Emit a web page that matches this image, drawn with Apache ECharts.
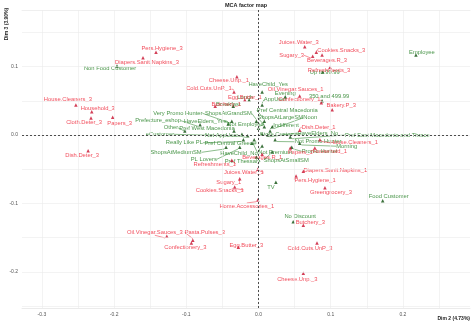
<!DOCTYPE html>
<html>
<head>
<meta charset="utf-8">
<script src="https://cdn.jsdelivr.net/npm/echarts@6/dist/echarts.min.js"></script>
<style>
html,body{margin:0;padding:0;background:#fff;}
#chart{width:474px;height:325px;}
</style>
</head>
<body>
<div id="chart"></div>
<script>
// Active categories (red): coordinates on Dim 2 / Dim 3
const activeNames = [
  'Pers.Hygiene_3','Diapers.Sanit.Napkins_3','House.Cleaners_3','Household_3','Cloth.Deter_3',
  'Papers_3','Dish.Deter_3','Cheese.Unp._1','Cold.Cuts.UnP._1','Juices.Water_3',
  'Sugary_3','Cookies.Snacks_3','Beverages.R_3','Refreshments_3','Oil.Vinegar.Sauces_1',
  'Confectionery_1','Bakery.P_3','Egg.Butter_1','Butchery_1','Dish.Deter_1',
  'House.Cleaners_1','Household_1','Papers_1','Beverages.R_1','Refreshments_1',
  'Juices.Water_1','Sugary_1','Cookies.Snacks_1','Home.Accessories_1','Diapers.Sanit.Napkins_1',
  'Pers.Hygiene_1','Greengrocery_3','Butchery_3','Cold.Cuts.UnP_3','Cheese.Unp._3',
  'Egg.Butter_3','Pasta.Pulses_3','Confectionery_3','Oil.Vinegar.Sauces_3'
];
const activeDim2 = [
  -0.142,-0.160,-0.253,-0.231,-0.232,
  -0.202,-0.236,-0.030,-0.034,0.064,
  0.075,0.080,0.088,0.099,0.057,
  0.087,0.102,-0.019,-0.060,0.057,
  0.085,0.078,0.044,0.005,-0.037,
  -0.001,-0.026,-0.033,-0.001,0.062,
  0.052,0.092,0.062,0.081,0.062,
  -0.028,-0.091,-0.093,-0.127
];
const activeDim3 = [
  0.121,0.113,0.044,0.034,0.025,
  0.026,-0.023,0.085,0.063,0.129,
  0.115,0.121,0.117,0.099,0.057,
  0.047,0.037,0.051,0.042,0.007,
  -0.007,-0.019,-0.019,-0.028,-0.037,
  -0.050,-0.064,-0.076,-0.095,-0.053,
  -0.060,-0.077,-0.132,-0.158,-0.202,
  -0.164,-0.154,-0.158,-0.148
];

// Supplementary categories (green)
const suppNames = [
  'Non Food Customer','Employee','Food Customer','No Discount','TV',
  'HaveChild_Yes','Up to 99.99','350 and 499.99','AppUser','Evening',
  'Lunch','Breakfast','Very Promo Hunter','ShopsAtGrandSM','Prefecture_eshop',
  'HaveElders_Yes','Other','Pref West Macedonia','eCustomer','Not AppUser',
  'Really Like PL','Pref Central Greece','ShopsAtMediumSM','PL Lovers','HaveChild_No',
  'Not Employed','Pref Central Macedonia','ShopsAtLargeSM','Noon','Indifferent',
  'Store Customer','HaveElders_No','Pref East Macedonia and Thrace','Not Promo Hunter','Morning',
  'Promo Hunter','Not Premium','ShopsAtSmallSM','Pref Thessaly'
];
const suppDim2 = [
  -0.196,0.218,0.172,0.048,0.024,
  0.005,0.089,0.088,0.005,0.037,
  -0.013,-0.035,-0.037,-0.003,-0.081,
  -0.042,-0.102,-0.034,-0.023,-0.015,
  -0.021,-0.006,-0.045,-0.026,-0.009,
  0.000,0.008,0.008,0.019,0.016,
  0.005,0.013,0.044,0.023,0.057,
  0.046,0.005,0.019,-0.003
];
const suppDim3 = [
  0.101,0.117,-0.096,-0.127,-0.069,
  0.063,0.092,0.050,0.044,0.056,
  0.051,0.042,0.020,0.020,0.015,
  0.016,0.006,0.006,0.001,-0.001,
  -0.007,-0.007,-0.018,-0.018,-0.012,
  0.010,0.020,0.012,0.012,0.006,
  0.001,0.000,-0.003,-0.007,-0.012,
  -0.018,-0.016,-0.025,-0.032
];

const xTicks = [-0.3, -0.2, -0.1, 0, 0.1, 0.2];
const yTicks = [-0.2, -0.1, 0, 0.1];

// Repelled label placement, in pixels from each point
const activeNudge = [
  [6,-4],[4,5],[-8,-5],[6,-3],[-7,5],
  [7,6],[-6,5],[-8,4],[-25,-3],[-6,-4],
  [-21,-1],[25,-2],[5,5],[-1,3],[-4,-7],
  [-22,-3],[9,-4],[0,-3],[11,-2],[19,-3],
  [34,3],[15,3],[10,4],[0,3],[-17,4],
  [-14,3],[-11,4],[-15,3],[-11,6],[32,-1],
  [19,4],[6,5],[7,-3],[-7,5],[-6,6],
  [8,-2],[12,-8],[-6,4],[-12,-4]
];
const suppNudge = [
  [-7,3],[6,-3],[6,-4],[7,-5],[-5,5],
  [6,-7],[2,0],[7,-4],[13,-5],[0,-3],
  [-4,-3],[-5,-2],[-54,-8],[-28,-8],[-42,-4],
  [-23,-3],[-14,-3],[-27,-2],[-82,0],[-26,0],
  [-59,3],[-24,4],[-50,5],[-36,12],[-13,10],
  [-13,-4],[23,-11],[16,-9],[38,-9],[16,-5],
  [18,0],[50,-2],[97,-2],[43,2],[47,3],
  [28,4],[13,6],[14,8],[-14,5]
];

const RED = '#ee1c2e';
const GREEN = '#1b7a1b';
const FONT = '"Liberation Sans", Arial, sans-serif';

const X_MIN = -0.3276, X_MAX = 0.2929;
const Y_MIN = -0.2529, Y_MAX = 0.1827;

const gridX = [];
for (let v = -0.30; v <= 0.2501; v += 0.05) gridX.push(+v.toFixed(2));
const gridY = [];
for (let v = -0.25; v <= 0.1501; v += 0.05) gridY.push(+v.toFixed(2));

function buildPoints(names, xs, ys, nudge) {
  return names.map((n, i) => ({
    name: n,
    value: [xs[i], ys[i]],
    labelLine: { show: Math.hypot(nudge[i][0], nudge[i][1]) > 12 }
  }));
}

const chart = echarts.init(document.getElementById('chart'), null, { renderer: 'canvas' });

chart.setOption({
  animation: false,
  backgroundColor: '#ffffff',
  grid: { left: 22, right: 4, top: 10, bottom: 17 },
  xAxis: [
    {
      type: 'value', min: X_MIN, max: X_MAX,
      splitLine: { show: false },
      axisLine: { show: true, onZero: false, lineStyle: { color: '#dddddd', width: 0.6 } },
      axisTick: { show: false },
      axisLabel: {
        customValues: xTicks,
        formatter: v => v.toFixed(1),
        fontSize: 5, color: '#555', margin: 4, fontFamily: FONT
      }
    },
    {
      type: 'value', position: 'top', min: X_MIN, max: X_MAX,
      splitLine: { show: false },
      axisLine: { show: true, onZero: false, lineStyle: { color: '#e4e4e4', width: 0.6 } },
      axisTick: { show: false },
      axisLabel: { show: false }
    }
  ],
  yAxis: {
    type: 'value', min: Y_MIN, max: Y_MAX,
    splitLine: { show: false },
    axisLine: { show: false },
    axisTick: { show: false },
    axisLabel: {
      customValues: yTicks,
      formatter: v => v.toFixed(1),
      fontSize: 5, color: '#555', margin: 4, fontFamily: FONT
    }
  },
  graphic: [
    { type: 'text', x: 246, y: 5, z: 10,
      style: { text: 'MCA factor map', font: 'bold 5.5px ' + FONT, fill: '#222', align: 'center', verticalAlign: 'middle' } },
    { type: 'text', x: 7, y: 24, rotation: Math.PI / 2, z: 10,
      style: { text: 'Dim 3 (3.90%)', font: 'bold 5px ' + FONT, fill: '#222', align: 'center', verticalAlign: 'middle' } },
    { type: 'text', x: 470, y: 319, z: 10,
      style: { text: 'Dim 2 (4.73%)', font: 'bold 5px ' + FONT, fill: '#222', align: 'right', verticalAlign: 'middle' } }
  ],
  series: [
    {
      // background grid lines every 0.05
      type: 'scatter', data: [], silent: true, z: 0,
      markLine: {
        silent: true, symbol: 'none', animation: false,
        label: { show: false },
        lineStyle: { color: '#ebebeb', width: 0.6, type: 'solid' },
        data: gridX.map(v => ({ xAxis: v })).concat(gridY.map(v => ({ yAxis: v })))
      }
    },
    {
      // origin axes
      type: 'scatter', data: [], silent: true, z: 1,
      markLine: {
        silent: true, symbol: 'none', animation: false,
        label: { show: false },
        lineStyle: { color: '#222', width: 0.8, type: [2, 2] },
        data: [{ xAxis: 0 }, { yAxis: 0 }]
      }
    },
    {
      name: 'Supplementary', type: 'scatter', z: 3,
      data: buildPoints(suppNames, suppDim2, suppDim3, suppNudge),
      symbol: 'triangle', symbolSize: 3.5,
      itemStyle: { color: '#0b4d0b' },
      label: { show: true, position: 'inside', formatter: '{b}', fontSize: 5.8, color: GREEN, fontFamily: FONT },
      labelLine: { lineStyle: { color: GREEN, width: 0.5 } },
      labelLayout: p => ({ dx: suppNudge[p.dataIndex][0], dy: suppNudge[p.dataIndex][1] })
    },
    {
      name: 'Active', type: 'scatter', z: 4,
      data: buildPoints(activeNames, activeDim2, activeDim3, activeNudge),
      symbol: 'triangle', symbolSize: 3.5,
      itemStyle: { color: '#c8102e' },
      label: { show: true, position: 'inside', formatter: '{b}', fontSize: 5.8, color: RED, fontFamily: FONT },
      labelLine: { lineStyle: { color: RED, width: 0.5 } },
      labelLayout: p => ({ dx: activeNudge[p.dataIndex][0], dy: activeNudge[p.dataIndex][1] })
    }
  ]
});
</script>
</body>
</html>
